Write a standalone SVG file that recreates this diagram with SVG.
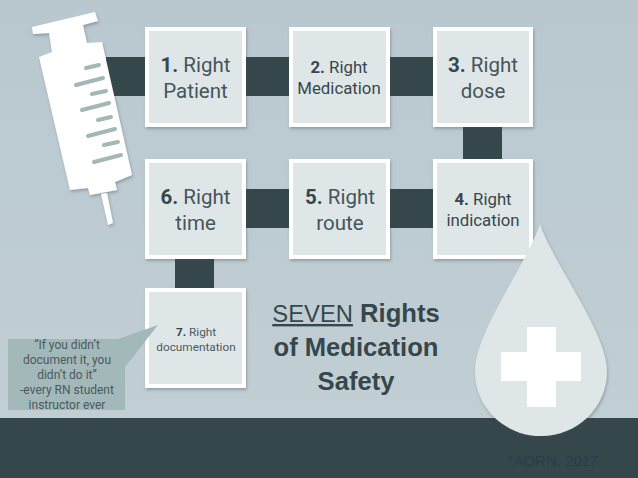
<svg xmlns="http://www.w3.org/2000/svg" width="638" height="478" viewBox="0 0 638 478">
<defs>
<linearGradient id="bg" x1="0" y1="0" x2="0" y2="1"><stop offset="0" stop-color="#b9c8cf"/><stop offset="1" stop-color="#c2d0d5"/></linearGradient>
<filter id="sh" x="-15%" y="-15%" width="130%" height="130%"><feDropShadow dx="1" dy="2" stdDeviation="1.5" flood-color="#3a4b50" flood-opacity="0.35"/></filter>
<style>
.t{font-family:"Liberation Sans",Arial,sans-serif;text-anchor:middle}
.box{fill:#dfe6e8;stroke:#fff;stroke-width:4;filter:url(#sh)}
.big{font-size:20.5px;fill:#46555a;font-family:Roboto,"Liberation Sans",sans-serif;text-anchor:middle}
.mid{font-size:16.8px;fill:#36474c;font-family:Roboto,"Liberation Sans",sans-serif;text-anchor:middle}
.sm{font-size:11.8px;fill:#4b5a5f;font-family:Roboto,"Liberation Sans",sans-serif;text-anchor:middle}
.b{font-weight:700;fill:#36474c}
.link{fill:#36474c}
.tick{stroke:#a3b7b7;stroke-width:4;stroke-linecap:round}
.title{font-size:25.6px;font-weight:700;fill:#36474c}
.q{font-size:12px;fill:#4b5a5f;font-family:Roboto,"Liberation Sans",sans-serif;text-anchor:middle}
</style>
</defs>
<rect width="638" height="478" fill="url(#bg)"/>
<rect id="footer" y="418" width="638" height="60" fill="#36474c"/>
<g id="connectors" class="link">
<rect x="106" y="57" width="40" height="39"/>
<rect x="246" y="57" width="44" height="39"/>
<rect x="390" y="57" width="44" height="39"/>
<rect x="463" y="127" width="39" height="33"/>
<rect x="246" y="189" width="44" height="39"/>
<rect x="390" y="189" width="44" height="39"/>
<rect x="175" y="259" width="39" height="30"/>
</g>
<g id="syringe">
<path filter="url(#sh)" fill="#fff" d="M32 27L95 12L98 21L83 25L87 43L102 42L132 175L115 182L117 190L90 195L88 188L70 190L39 57L52 52L49 33L33 34Z M101 194L107 193L113 223L108 225Z"/>
<g class="tick">
<line x1="86" y1="68" x2="99" y2="65"/>
<line x1="76" y1="85" x2="103" y2="78"/>
<line x1="92" y1="94" x2="106" y2="91"/>
<line x1="82" y1="110" x2="109" y2="103"/>
<line x1="98" y1="120" x2="111" y2="117"/>
<line x1="88" y1="136" x2="115" y2="129"/>
<line x1="104" y1="145" x2="118" y2="142"/>
<line x1="94" y1="162" x2="121" y2="155"/>
</g>
</g>
<g id="node1"><rect class="box" x="147" y="29" width="97" height="96"/><text class="big" x="195.5" y="72"><tspan class="b">1.</tspan> Right</text><text class="big" x="195.5" y="98">Patient</text></g>
<g id="node2"><rect class="box" x="291" y="29" width="97" height="96"/><text class="mid" x="339" y="73"><tspan class="b">2.</tspan> Right</text><text class="mid" x="339" y="94">Medication</text></g>
<g id="node3"><rect class="box" x="435" y="29" width="96" height="96"/><text class="big" x="483" y="72"><tspan class="b">3.</tspan> Right</text><text class="big" x="483" y="98">dose</text></g>
<g id="node6"><rect class="box" x="147" y="161" width="97" height="96"/><text class="big" x="195.5" y="204"><tspan class="b">6.</tspan> Right</text><text class="big" x="195.5" y="230">time</text></g>
<g id="node5"><rect class="box" x="291" y="161" width="97" height="96"/><text class="big" x="340" y="204"><tspan class="b">5.</tspan> Right</text><text class="big" x="340" y="230">route</text></g>
<g id="node4"><rect class="box" x="435" y="161" width="96" height="96"/><text class="mid" x="483" y="205"><tspan class="b">4.</tspan> Right</text><text class="mid" x="483" y="226">indication</text></g>
<g id="node7"><rect class="box" x="147" y="290" width="97" height="96"/><text class="sm" x="196" y="336"><tspan class="b">7.</tspan> Right</text><text class="sm" x="196" y="351">documentation</text></g>
<g id="callout">
<path fill="#a3b8b8" d="M8 339H118L158 325L125 367V410H8Z"/>
<text class="q" x="67" y="349">“If you didn’t</text>
<text class="q" x="67" y="364">document it, you</text>
<text class="q" x="67" y="379">didn’t do it”</text>
<text class="q" x="67" y="394">-every RN student</text>
<text class="q" x="67" y="409">instructor ever</text>
</g>
<g id="title">
<text class="t title" x="356" y="322"><tspan font-weight="400" font-size="23.8" text-decoration="underline">SEVEN</tspan> Rights</text>
<text class="t title" x="356" y="356">of Medication</text>
<text class="t title" x="356" y="390">Safety</text>
</g>
<g id="drop">
<path filter="url(#sh)" fill="#dfe6e8" d="M540 224C552 262 607 332 607 371C607 408 577 436 541 436C505 436 475 408 475 371C475 332 528 262 540 224Z"/>
<path fill="#fff" d="M527 327H556V352H581V381H556V407H527V381H501V352H527Z"/>
</g>
<text id="cite" class="t" x="553" y="466" font-size="15" fill="#2a3c4a">*AORN, 2017</text>
</svg>
